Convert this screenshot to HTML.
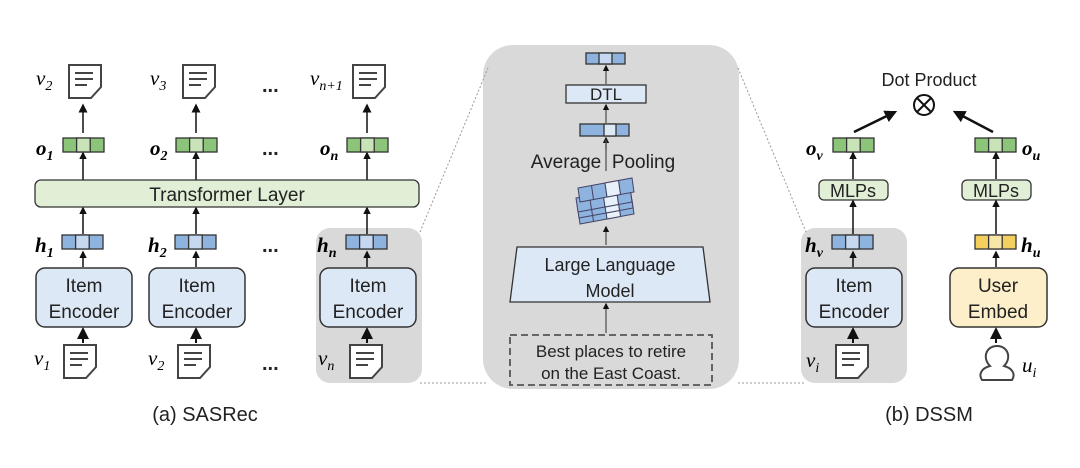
<!DOCTYPE html>
<html><head><meta charset="utf-8"><style>
body{margin:0;background:#fff}
svg{display:block;font-family:"Liberation Sans","DejaVu Sans",sans-serif}
.m{font-family:"Liberation Serif",serif;font-style:italic;font-size:21px}
.b{font-family:"Liberation Serif",serif;font-style:italic;font-weight:bold;font-size:21px}
.d{font-size:20px;font-weight:bold;fill:#222}
</style></head><body>
<svg width="1080" height="468" viewBox="0 0 1080 468" xmlns="http://www.w3.org/2000/svg">
<defs>
<marker id="a" markerWidth="6" markerHeight="6" refX="5" refY="3" orient="auto"><path d="M0,0L6,3L0,6z" fill="#111"/></marker>
<marker id="ab" markerWidth="5" markerHeight="5" refX="4" refY="2.5" orient="auto"><path d="M0,0L5,2.5L0,5z" fill="#111"/></marker>
<g id="doc"><path d="M0,0H32V22L22,33H0Z" fill="#fff" stroke="#444" stroke-width="2"/><path d="M6,8H24M6,14H24M6,20H18" stroke="#444" stroke-width="2"/></g>
<g id="gv"><rect x="0" y="0" width="41" height="14" fill="#8cc47a" stroke="#333" stroke-width="1.3"/><rect x="13.6" y="0" width="13.6" height="14" fill="#c9e3b8" stroke="#333" stroke-width="1.3"/></g>
<g id="bv"><rect x="0" y="0" width="41" height="14" fill="#8fb3df" stroke="#333" stroke-width="1.3"/><rect x="13.6" y="0" width="13.6" height="14" fill="#c6d8ef" stroke="#333" stroke-width="1.3"/></g>
<g id="ie"><rect x="0" y="0" width="96" height="59" rx="9" fill="#dde8f6" stroke="#333" stroke-width="1.5"/><text x="48" y="24" font-size="19" text-anchor="middle" fill="#222">Item</text><text x="48" y="50" font-size="19" text-anchor="middle" fill="#222">Encoder</text></g>
<g id="layer"><path d="M0,10L54,0L56,14L2,24Z" fill="#8fb3df" stroke="#446" stroke-width="1"/><path d="M13.5,7.5L15.5,21.5M27,5L29,19M40.5,2.5L42.5,16.5" stroke="#446" stroke-width="1"/><path d="M27,5L40.5,2.5L42.5,16.5L29,19Z" fill="#e8f0fa" stroke="#446" stroke-width="1"/></g>
</defs>
<rect x="316" y="228" width="106" height="155" rx="14" fill="#d9d9d9"/>
<rect x="483" y="45" width="256" height="344" rx="30" fill="#d9d9d9"/>
<rect x="801" y="228" width="106" height="155" rx="14" fill="#d9d9d9"/>
<g stroke="#999" stroke-width="1" stroke-dasharray="2,2" fill="none">
<path d="M420,232L488,68M420,383L486,383M738,68L806,232M738,383L806,383"/>
</g>
<use href="#doc" x="69" y="65"/><use href="#doc" x="183" y="65"/><use href="#doc" x="353" y="65"/>
<text class="m" x="36" y="85">v<tspan font-size="14" dy="5">2</tspan></text>
<text class="m" x="150" y="85">v<tspan font-size="14" dy="5">3</tspan></text>
<text class="m" x="310" y="85">v<tspan font-size="14" dy="5">n+1</tspan></text>
<text class="d" x="262" y="92">...</text>
<text class="d" x="262" y="155">...</text>
<text class="d" x="262" y="252">...</text>
<text class="d" x="262" y="370">...</text>
<g stroke="#111" stroke-width="1.5" fill="none">
<path d="M83,133V105" marker-end="url(#a)"/><path d="M196,133V105" marker-end="url(#a)"/><path d="M367,133V105" marker-end="url(#a)"/>
<path d="M83,180V153" marker-end="url(#ab)"/><path d="M196,180V153" marker-end="url(#ab)"/><path d="M367,180V153" marker-end="url(#ab)"/>
<path d="M83,234V208" marker-end="url(#ab)"/><path d="M196,234V208" marker-end="url(#ab)"/><path d="M367,234V208" marker-end="url(#ab)"/>
<path d="M83,267V252" marker-end="url(#ab)"/><path d="M196,267V252" marker-end="url(#ab)"/><path d="M367,267V252" marker-end="url(#ab)"/>
<path d="M83,343V329" marker-end="url(#a)" stroke-width="2"/><path d="M196,343V329" marker-end="url(#a)" stroke-width="2"/><path d="M367,343V329" marker-end="url(#a)" stroke-width="2"/>
</g>
<use href="#gv" x="63" y="138"/><use href="#gv" x="176" y="138"/><use href="#gv" x="347" y="138"/>
<text class="b" x="36" y="155">o<tspan font-size="14" dy="5">1</tspan></text>
<text class="b" x="150" y="155">o<tspan font-size="14" dy="5">2</tspan></text>
<text class="b" x="320" y="155">o<tspan font-size="14" dy="5">n</tspan></text>
<rect x="35" y="180" width="384" height="27" rx="6" fill="#e0efd6" stroke="#333" stroke-width="1.3"/>
<text x="227" y="201" font-size="19" text-anchor="middle" fill="#222">Transformer Layer</text>
<use href="#bv" x="62" y="235"/><use href="#bv" x="175" y="235"/><use href="#bv" x="346" y="235"/>
<text class="b" x="35" y="252">h<tspan font-size="14" dy="5">1</tspan></text>
<text class="b" x="148" y="252">h<tspan font-size="14" dy="5">2</tspan></text>
<text class="b" x="317" y="252">h<tspan font-size="14" dy="5">n</tspan></text>
<use href="#ie" x="36" y="268"/><use href="#ie" x="149" y="268"/><use href="#ie" x="320" y="268"/>
<use href="#doc" x="64" y="345"/><use href="#doc" x="178" y="345"/><use href="#doc" x="350" y="345"/>
<text class="m" x="34" y="365">v<tspan font-size="14" dy="5">1</tspan></text>
<text class="m" x="148" y="365">v<tspan font-size="14" dy="5">2</tspan></text>
<text class="m" x="318" y="365">v<tspan font-size="14" dy="5">n</tspan></text>
<g stroke="#333" stroke-width="1.3">
<rect x="586" y="53" width="39" height="11" fill="#8fb3df"/><rect x="599" y="53" width="13" height="11" fill="#c6d8ef"/>
<rect x="566" y="85" width="80" height="18" fill="#dde8f6"/>
<rect x="580" y="124" width="49" height="12" fill="#8fb3df"/><rect x="604" y="124" width="12" height="12" fill="#dde8f6"/>
<path d="M510,302L517,247H703L710,302Z" fill="#dde8f6"/>
</g>
<text x="606" y="100" font-size="17" text-anchor="middle" fill="#222">DTL</text>
<g stroke="#555" stroke-width="1.3" fill="none">
<path d="M606,84V66" marker-end="url(#ab)"/><path d="M606,123V105" marker-end="url(#ab)"/>
<path d="M606,150V138" marker-end="url(#ab)"/><path d="M606,245V227" marker-end="url(#ab)"/><path d="M606,333V304" marker-end="url(#ab)"/>
</g>
<text x="603" y="168" font-size="19" text-anchor="middle" fill="#222">Average<tspan fill="#d9d9d9">_</tspan>Pooling</text>
<path d="M606,171V140" stroke="#555" stroke-width="1.3"/>
<use href="#layer" x="578" y="200"/><use href="#layer" x="577" y="194"/><use href="#layer" x="576" y="188"/><use href="#layer" x="578" y="178"/>
<text x="610" y="271" font-size="18" text-anchor="middle" fill="#222">Large Language</text>
<text x="610" y="297" font-size="18" text-anchor="middle" fill="#222">Model</text>
<rect x="510" y="335" width="202" height="50" fill="none" stroke="#555" stroke-width="1.8" stroke-dasharray="7,4"/>
<text x="611" y="357" font-size="17" text-anchor="middle" fill="#222">Best places to retire</text>
<text x="611" y="379" font-size="17" text-anchor="middle" fill="#222">on the East Coast.</text>
<text x="929" y="86" font-size="18" text-anchor="middle" fill="#222">Dot Product</text>
<circle cx="924" cy="105" r="10" fill="none" stroke="#111" stroke-width="2"/>
<path d="M917,98L931,112M931,98L917,112" stroke="#111" stroke-width="2"/>
<g stroke="#111" stroke-width="2.5" fill="none">
<path d="M854,132L895,112" marker-end="url(#ab)"/><path d="M993,132L955,112" marker-end="url(#ab)"/>
</g>
<use href="#gv" x="833" y="138"/><use href="#gv" x="975" y="138"/>
<text class="b" x="806" y="155">o<tspan font-size="14" dy="5">v</tspan></text>
<text class="b" x="1022" y="155">o<tspan font-size="14" dy="5">u</tspan></text>
<rect x="819" y="180" width="69" height="20" rx="5" fill="#e0efd6" stroke="#333" stroke-width="1.3"/>
<rect x="962" y="180" width="69" height="20" rx="5" fill="#e0efd6" stroke="#333" stroke-width="1.3"/>
<text x="853" y="197" font-size="18" text-anchor="middle" fill="#222">MLPs</text>
<text x="996" y="197" font-size="18" text-anchor="middle" fill="#222">MLPs</text>
<g stroke="#111" stroke-width="1.5" fill="none">
<path d="M853,179V153" marker-end="url(#ab)"/><path d="M996,179V153" marker-end="url(#ab)"/>
<path d="M853,234V201" marker-end="url(#ab)"/><path d="M996,234V201" marker-end="url(#ab)"/>
<path d="M853,267V252" marker-end="url(#ab)"/><path d="M996,267V252" marker-end="url(#ab)"/>
<path d="M853,343V329" marker-end="url(#a)" stroke-width="2"/><path d="M996,343V329" marker-end="url(#a)" stroke-width="2"/>
</g>
<use href="#bv" x="832" y="235"/>
<rect x="975" y="235" width="41" height="14" fill="#f3cf5e" stroke="#333" stroke-width="1.3"/><rect x="988.6" y="235" width="13.6" height="14" fill="#f8e6a8" stroke="#333" stroke-width="1.3"/>
<text class="b" x="805" y="252">h<tspan font-size="14" dy="5">v</tspan></text>
<text class="b" x="1021" y="252">h<tspan font-size="14" dy="5">u</tspan></text>
<use href="#ie" x="806" y="268"/>
<rect x="950" y="268" width="97" height="59" rx="9" fill="#fcefc9" stroke="#333" stroke-width="1.5"/>
<text x="998" y="292" font-size="19" text-anchor="middle" fill="#222">User</text>
<text x="998" y="318" font-size="19" text-anchor="middle" fill="#222">Embed</text>
<use href="#doc" x="836" y="345"/>
<text class="m" x="806" y="367">v<tspan font-size="14" dy="5">i</tspan></text>
<path d="M990,366C982,358 986,346 997,346C1008,346 1012,358 1004,366C1012,368 1016,374 1012,380H982C978,374 982,368 990,366Z" fill="#fff" stroke="#444" stroke-width="2"/>
<text class="m" x="1022" y="372">u<tspan font-size="14" dy="5">i</tspan></text>
<text x="205" y="421" font-size="20" text-anchor="middle" fill="#222">(a) SASRec</text>
<text x="929" y="421" font-size="20" text-anchor="middle" fill="#222">(b) DSSM</text>
</svg>
</body></html>
